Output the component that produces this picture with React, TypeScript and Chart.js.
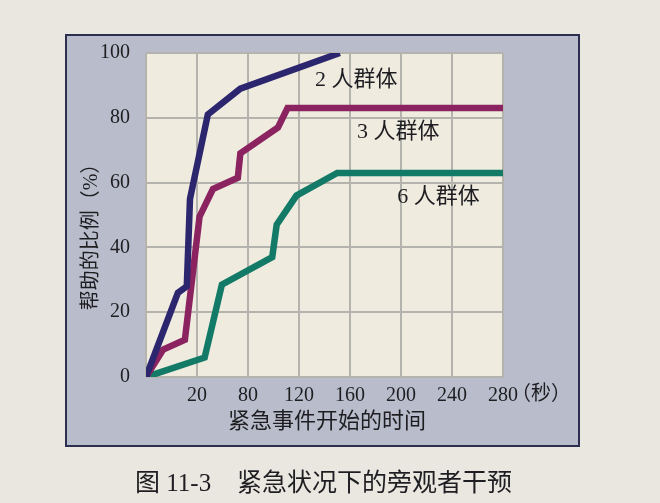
import { useEffect, useRef } from 'react';
import { Chart, registerables, Plugin } from 'chart.js';

Chart.register(...registerables);

// time since the emergency started (seconds) and % who helped
const twoTimes = [0, 25, 32, 34.5, 48.5, 74, 152];
const twoHelp = [0, 26, 28, 55, 81, 89, 100];

const threeTimes = [0, 13.5, 30.5, 42, 52.5, 72, 74, 103.5, 111, 280];
const threeHelp = [0, 8.5, 11.5, 49.5, 58, 61.5, 69, 77, 83, 83];

const sixTimes = [0, 46, 59.5, 99, 102.5, 118, 150, 280];
const sixHelp = [0, 6, 28.5, 37, 47, 56, 63, 63];

const seriesNames = ['2 人群体', '3 人群体', '6 人群体'];
// the book prints the first tick as "20"
const xTickLabels = ['', '20', '80', '120', '160', '200', '240', '280'];

const serif = '"Liberation Serif", "Noto Sans CJK SC", serif';

const toPoints = (xs: number[], ys: number[]) => xs.map((x, i) => ({ x, y: ys[i] }));

const frame: Plugin = {
    id: 'frame',
    beforeDraw(chart) {
        const { ctx, chartArea } = chart;
        ctx.save();
        ctx.fillStyle = '#e9e7df';
        ctx.fillRect(0, 0, chart.width, chart.height);
        ctx.fillStyle = '#b9bcca';
        ctx.fillRect(66, 35, 513, 411);
        ctx.strokeStyle = '#2c2e50';
        ctx.lineWidth = 2;
        ctx.strokeRect(66, 35, 513, 411);
        ctx.fillStyle = '#efebdf';
        ctx.fillRect(chartArea.left, chartArea.top, chartArea.right - chartArea.left, chartArea.bottom - chartArea.top);
        ctx.restore();
    },
    afterDraw(chart) {
        const { ctx } = chart;
        const x = chart.scales.x;
        const y = chart.scales.y;
        ctx.save();
        ctx.fillStyle = '#1e1e22';
        ctx.textBaseline = 'middle';

        // series labels
        ctx.font = `22px ${serif}`;
        ctx.textAlign = 'left';
        ctx.fillText(seriesNames[0], x.getPixelForValue(132.5), y.getPixelForValue(91.7));
        ctx.fillText(seriesNames[1], x.getPixelForValue(165.5), y.getPixelForValue(75.6));
        ctx.fillText(seriesNames[2], x.getPixelForValue(197), y.getPixelForValue(55.6));

        // unit after the last tick
        ctx.font = `20px ${serif}`;
        ctx.fillText('（秒）', x.getPixelForValue(280) + 8, 395);

        // axis titles
        ctx.font = `22px ${serif}`;
        ctx.textAlign = 'center';
        ctx.fillText('紧急事件开始的时间', 327, 422);

        ctx.save();
        ctx.translate(92, 232);
        ctx.rotate(-Math.PI / 2);
        ctx.font = `20px ${serif}`;
        ctx.fillText('帮助的比例（%）', 0, 0);
        ctx.restore();

        // caption
        ctx.font = `25px ${serif}`;
        ctx.textAlign = 'left';
        ctx.fillText('图 11-3', 135, 484);
        ctx.fillText('紧急状况下的旁观者干预', 237, 484);
        ctx.restore();
    },
};

const BystanderChart = () => {
    const chartRef = useRef<HTMLCanvasElement | null>(null);

    useEffect(() => {
        const ctx = chartRef.current?.getContext('2d');
        if (!ctx) return;

        const line = (label: string, data: { x: number; y: number }[], color: string) => ({
            label,
            data,
            borderColor: color,
            backgroundColor: color,
            borderWidth: 6.5,
            borderJoinStyle: 'miter' as const,
            pointRadius: 0,
            tension: 0,
        });

        const myChart = new Chart(ctx, {
            type: 'line',
            data: {
                datasets: [
                    line(seriesNames[0], toPoints(twoTimes, twoHelp), '#2b266e'),
                    line(seriesNames[1], toPoints(threeTimes, threeHelp), '#8a2360'),
                    line(seriesNames[2], toPoints(sixTimes, sixHelp), '#127a66'),
                ],
            },
            options: {
                animation: false,
                responsive: false,
                layout: { padding: { left: 0, top: 53, right: 157, bottom: 0 } },
                plugins: { legend: { display: false }, tooltip: { enabled: false } },
                scales: {
                    x: {
                        type: 'linear',
                        min: 0,
                        max: 280,
                        afterFit: (scale) => {
                            scale.height = 126;
                        },
                        ticks: {
                            stepSize: 40,
                            padding: 7,
                            maxRotation: 0,
                            color: '#1e1e22',
                            font: { family: serif, size: 20 },
                            callback: (_v, i) => xTickLabels[i],
                        },
                        grid: { color: '#b5b3ad', lineWidth: 2, drawTicks: false },
                        border: { display: false },
                    },
                    y: {
                        min: 0,
                        max: 100,
                        afterFit: (scale) => {
                            scale.width = 146;
                        },
                        ticks: {
                            stepSize: 20,
                            padding: 16,
                            color: '#1e1e22',
                            font: { family: serif, size: 20 },
                        },
                        grid: { color: '#b5b3ad', lineWidth: 2, drawTicks: false },
                        border: { display: false },
                    },
                },
            },
            plugins: [frame],
        });

        return () => {
            myChart.destroy();
        };
    }, []);

    return (
        <div style={{ position: 'absolute', left: 0, top: 0, width: 660, height: 503 }}>
            <canvas ref={chartRef} width={660} height={503} style={{ display: 'block' }} />
        </div>
    );
};

export default function App() {
    return <BystanderChart />;
}
